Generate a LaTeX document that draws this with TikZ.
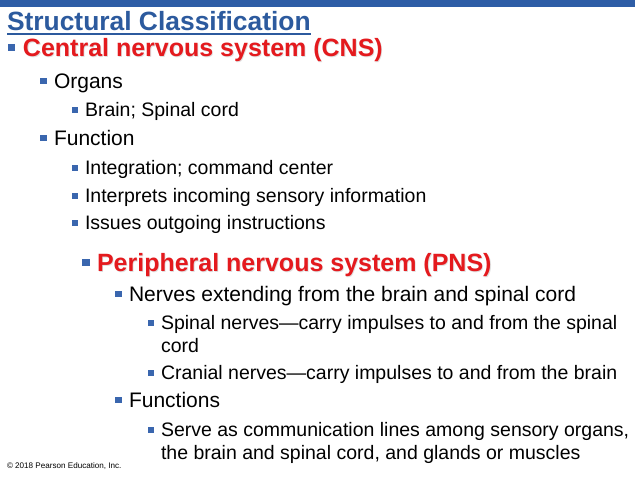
\documentclass[tikz,border=0pt]{standalone}
\usepackage{fontspec}
\setmainfont{Liberation Sans}
\definecolor{barblue}{RGB}{46,93,166}
\definecolor{titleblue}{RGB}{44,90,158}
\definecolor{bulblue}{RGB}{58,102,174}
\definecolor{headred}{RGB}{228,26,30}
\newcommand{\blt}{\llap{\textcolor{bulblue}{\rule[0.23em]{0.29em}{0.29em}}\hspace{7.5pt}}}
\tikzset{
  item/.style={anchor=base west, inner sep=0pt, outer sep=0pt},
  headitem/.style={item, text=headred, font=\fontsize{25}{30}\selectfont\bfseries},
  shadowitem/.style={item, text=black!40, opacity=.3, font=\fontsize{25}{30}\selectfont\bfseries},
  subitem/.style={item, font=\fontsize{21}{25}\selectfont},
  subsubitem/.style={item, font=\fontsize{19.5}{23}\selectfont}
}
\begin{document}
\begin{tikzpicture}[x=1pt,y=-1pt]
\useasboundingbox[fill=white] (0,0) rectangle (638,478);
\fill[barblue] (0,0) rectangle (635,7);

\node[item, text=titleblue, font=\fontsize{26.4}{31}\selectfont\bfseries] (title) at (7,31) {Structural Classification};
\draw[titleblue, line width=1.8pt] ([yshift=-3pt]title.base west) -- ([yshift=-3pt]title.base east);

% central nervous system
\node[shadowitem] (cnsshadow) at (23.8,57.8) {Central nervous system (CNS)};
\node[headitem] (cns) at (23,57) {\blt Central nervous system (CNS)};
\node[subitem] (organs) at (54,89) {\blt Organs};
\node[subsubitem] (brain) at (85,117) {\blt Brain; Spinal cord};
\node[subitem] (function) at (54,146) {\blt Function};
\node[subsubitem] (integ) at (85,175) {\blt Integration; command center};
\node[subsubitem] (interp) at (85,203) {\blt Interprets incoming sensory information};
\node[subsubitem] (issues) at (85,230) {\blt Issues outgoing instructions};

% peripheral nervous system
\node[shadowitem] (pnsshadow) at (97.8,272.8) {Peripheral nervous system (PNS)};
\node[headitem] (pns) at (97,272) {\blt Peripheral nervous system (PNS)};
\node[subitem] (nerves) at (129,302) {\blt Nerves extending from the brain and spinal cord};
\node[subsubitem] (spinal) at (161,330) {\blt Spinal nerves—carry impulses to and from the spinal};
\node[subsubitem] (spinalb) at (161,353) {cord};
\node[subsubitem] (cranial) at (161,380) {\blt Cranial nerves—carry impulses to and from the brain};
\node[subitem] (functions) at (129,408) {\blt Functions};
\node[subsubitem] (serve) at (161,437) {\blt Serve as communication lines among sensory organs,};
\node[subsubitem] (serveb) at (161,460) {the brain and spinal cord, and glands or muscles};

\node[item, font=\fontsize{8.1}{10}\selectfont] (copy) at (7,469) {© 2018 Pearson Education, Inc.};
\end{tikzpicture}
\end{document}
